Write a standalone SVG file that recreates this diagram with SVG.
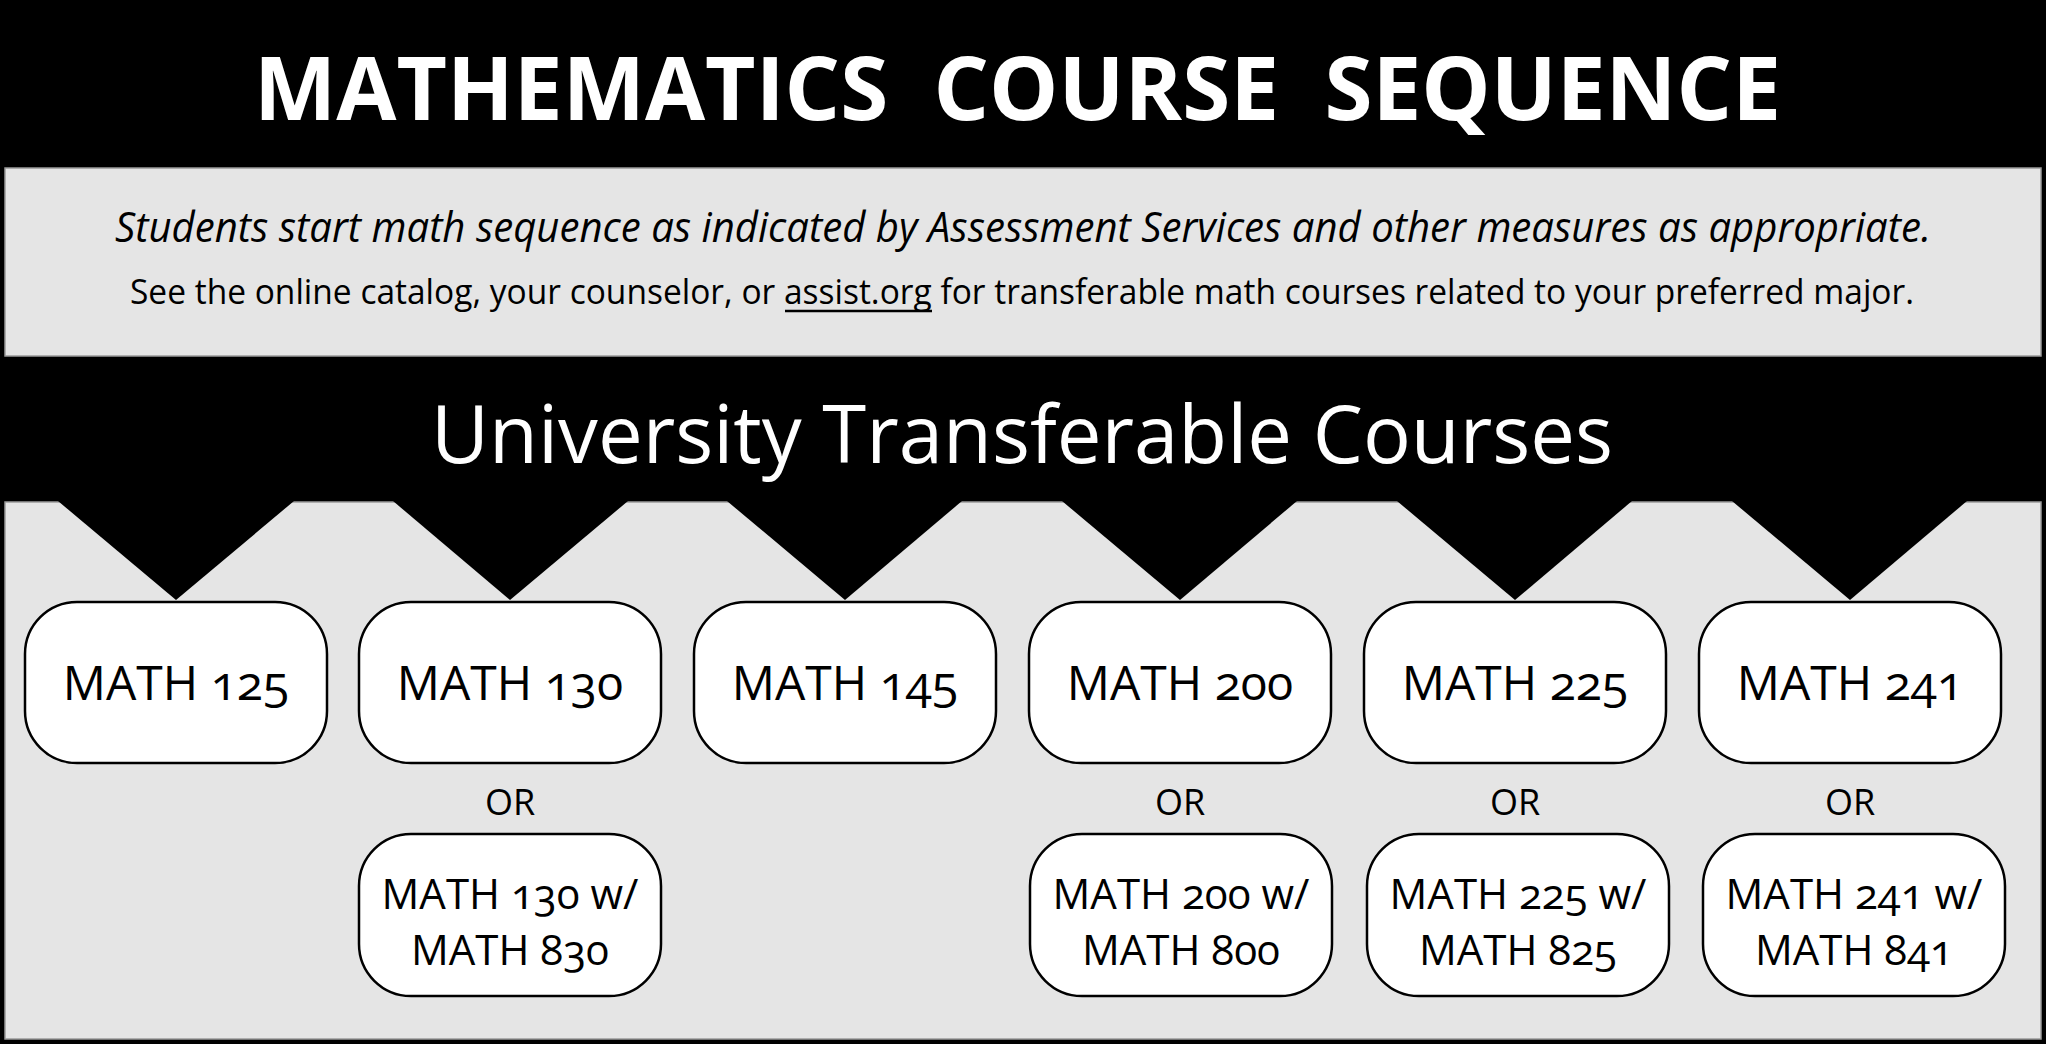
<svg xmlns="http://www.w3.org/2000/svg" width="2046" height="1044" viewBox="0 0 2046 1044">
<style>
.panel{fill:#e5e5e5;stroke:#9a9a9a;stroke-width:1.5}
.box{fill:#ffffff;stroke:#000000;stroke-width:2.5}
.lbl{font-family:"Open Sans","Noto Sans",sans-serif;font-size:48px;fill:#000;text-anchor:middle;font-variant-numeric:oldstyle-nums}
.lbl2{font-family:"Open Sans","Noto Sans",sans-serif;font-size:42px;fill:#000;text-anchor:middle;font-variant-numeric:oldstyle-nums}
.or{font-family:"Open Sans","Noto Sans",sans-serif;font-size:36px;fill:#000;text-anchor:middle}
.tri{fill:#000}
</style>
<rect x="0" y="0" width="2046" height="1044" fill="#000"/>
<g id="header">
<text x="254" y="120" textLength="1527" lengthAdjust="spacingAndGlyphs" xml:space="preserve" font-family="Open Sans, Noto Sans, sans-serif" font-weight="bold" font-size="88" fill="#fff">MATHEMATICS  COURSE  SEQUENCE</text>
</g>
<g id="info">
<rect class="panel" x="5" y="168" width="2036" height="188"/>
<text x="115" y="242" textLength="1816" lengthAdjust="spacingAndGlyphs" font-family="Open Sans, Noto Sans, sans-serif" font-style="italic" font-size="42" fill="#000">Students start math sequence as indicated by Assessment Services and other measures as appropriate.</text>
<text x="130" y="304" textLength="1784" lengthAdjust="spacingAndGlyphs" font-family="Open Sans, Noto Sans, sans-serif" font-size="35" fill="#000">See the online catalog, your counselor, or assist.org for transferable math courses related to your preferred major.</text>
<line x1="785" y1="311" x2="932" y2="311" stroke="#000" stroke-width="2.5"/>
</g>
<g id="band">
<text x="431" y="463" textLength="1182" lengthAdjust="spacingAndGlyphs" font-family="Open Sans, Noto Sans, sans-serif" font-size="80" fill="#fff">University Transferable Courses</text>
</g>
<rect class="panel" x="5" y="502" width="2036" height="537"/>
<g id="connectors">
<polygon class="tri" points="58,501 294,501 176,600"/>
<polygon class="tri" points="393,501 628,501 510,600"/>
<polygon class="tri" points="727,501 962,501 845,600"/>
<polygon class="tri" points="1062,501 1297,501 1180,600"/>
<polygon class="tri" points="1397,501 1632,501 1515,600"/>
<polygon class="tri" points="1732,501 1967,501 1850,600"/>
<text class="or" x="510" y="815">OR</text>
<text class="or" x="1180" y="815">OR</text>
<text class="or" x="1515" y="815">OR</text>
<text class="or" x="1850" y="815">OR</text>
</g>
<g id="math125"><rect class="box" x="25" y="602" width="302" height="161" rx="52"/><text class="lbl" x="176" y="700">MATH 125</text></g>
<g id="math130"><rect class="box" x="359" y="602" width="302" height="161" rx="52"/><text class="lbl" x="510" y="700">MATH 130</text></g>
<g id="math145"><rect class="box" x="694" y="602" width="302" height="161" rx="52"/><text class="lbl" x="845" y="700">MATH 145</text></g>
<g id="math200"><rect class="box" x="1029" y="602" width="302" height="161" rx="52"/><text class="lbl" x="1180" y="700">MATH 200</text></g>
<g id="math225"><rect class="box" x="1364" y="602" width="302" height="161" rx="52"/><text class="lbl" x="1515" y="700">MATH 225</text></g>
<g id="math241"><rect class="box" x="1699" y="602" width="302" height="161" rx="52"/><text class="lbl" x="1850" y="700">MATH 241</text></g>
<g id="math130w830"><rect class="box" x="359" y="834" width="302" height="162" rx="52"/><text class="lbl2" x="510" y="909">MATH 130 w/</text><text class="lbl2" x="510" y="965">MATH 830</text></g>
<g id="math200w800"><rect class="box" x="1030" y="834" width="302" height="162" rx="52"/><text class="lbl2" x="1181" y="909">MATH 200 w/</text><text class="lbl2" x="1181" y="965">MATH 800</text></g>
<g id="math225w825"><rect class="box" x="1367" y="834" width="302" height="162" rx="52"/><text class="lbl2" x="1518" y="909">MATH 225 w/</text><text class="lbl2" x="1518" y="965">MATH 825</text></g>
<g id="math241w841"><rect class="box" x="1703" y="834" width="302" height="162" rx="52"/><text class="lbl2" x="1854" y="909">MATH 241 w/</text><text class="lbl2" x="1854" y="965">MATH 841</text></g>
</svg>
